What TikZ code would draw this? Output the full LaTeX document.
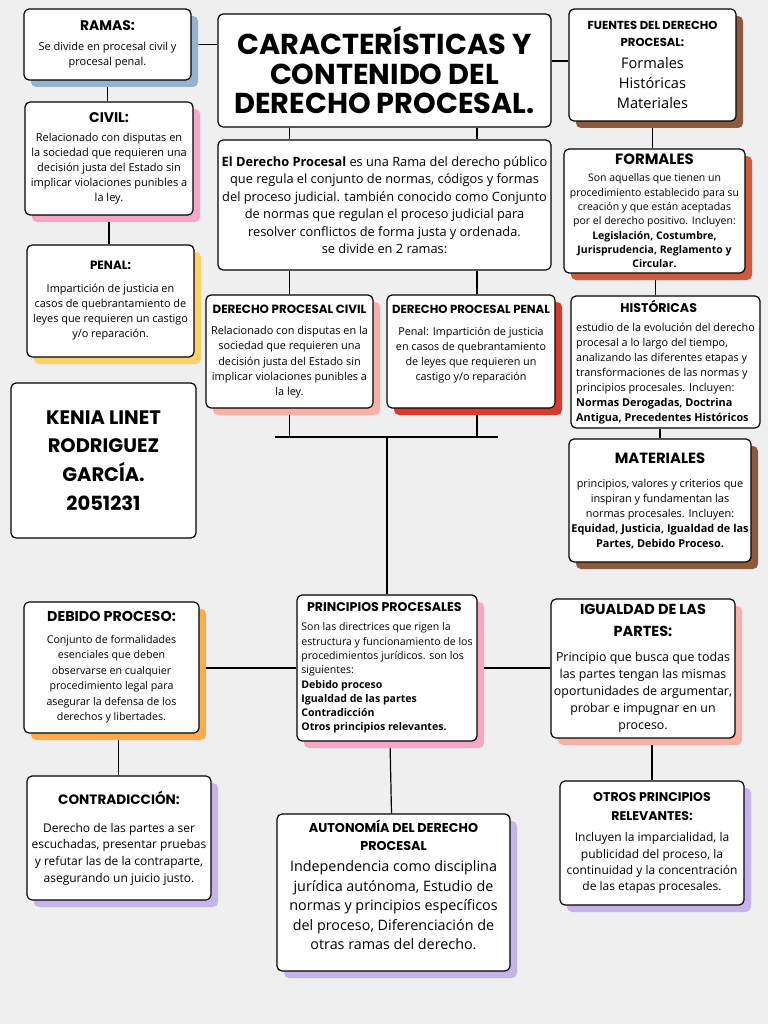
\documentclass[tikz,border=0pt]{standalone}
\usepackage{fontspec}
\setmainfont{Open Sans}
\newfontfamily\hdfont{Poppins}
\usetikzlibrary{shadows}

\definecolor{bgc}{HTML}{EFEFEF}
\definecolor{blueS}{HTML}{94B3D3}
\definecolor{pinkS}{HTML}{F5A7C5}
\definecolor{yellowS}{HTML}{FBD268}
\definecolor{salmonS}{HTML}{F8B0A6}
\definecolor{redS}{HTML}{D83A2C}
\definecolor{brownS}{HTML}{8C5A3E}
\definecolor{rustS}{HTML}{D05A3C}
\definecolor{orangeS}{HTML}{FFAA4C}
\definecolor{lilacS}{HTML}{C6B3EB}

\newcommand\hd[2][12]{{\hdfont\bfseries\fontsize{#1}{13}\selectfont #2}}
\newcommand\fs[2]{\fontsize{#1}{#2}\selectfont}

\pgfdeclarelayer{bgl}
\pgfdeclarelayer{lines}
\pgfsetlayers{bgl,lines,main}

\begin{document}
\begin{tikzpicture}[
  x=1pt, y=-1pt, font=\fs{11}{15},
  box/.style={draw, line width=1.2pt, rounded corners=5pt, fill=white, align=center, inner sep=1pt},
  sh/.style={drop shadow={shadow xshift=7pt, shadow yshift=-7pt, fill=#1, opacity=1}},
  conn/.style={line width=1.2pt}
]
  \useasboundingbox (0,0) rectangle (768,1024);
  \begin{pgfonlayer}{bgl}
    \fill[bgc] (0,0) rectangle (768,1024);
  \end{pgfonlayer}

  \node[box, sh=blueS, minimum width=167, minimum height=71] (ramas) at (107.5,44.5)
    {\hd[13.9]{RAMAS:}\\[5pt]Se divide en procesal civil y\\procesal penal.};
  \node[box, sh=pinkS, minimum width=168, minimum height=113] (civil) at (109,158.5)
    {\hd[14]{CIVIL:}\\[4pt]Relacionado con disputas en\\la sociedad que requieren una\\decisión justa del Estado sin\\implicar violaciones punibles a\\la ley.};
  \node[box, sh=yellowS, minimum width=167, minimum height=112, font=\fs{10.9}{15}] (penal) at (110.5,301)
    {\hd[12]{PENAL:}\\[8pt]Impartición de justicia en\\casos de quebrantamiento de\\leyes que requieren un castigo\\y/o reparación.};
  \node[box, minimum width=185, minimum height=155, font=\hdfont\bfseries\fs{19.5}{28.7}] (autor) at (103.5,460.5)
    {KENIA LINET\\RODRIGUEZ\\GARCÍA.\\2051231};

  \node[box, minimum width=333, minimum height=113, font=\hdfont\bfseries\fs{28.8}{29.5}] (titulo) at (384.5,70.5)
    {CARACTERÍSTICAS Y\\CONTENIDO DEL\\DERECHO PROCESAL.};
  \node[box, minimum width=333, minimum height=130, font=\fs{12.8}{17.5}] (def) at (384.5,205)
    {\textbf{El Derecho Procesal} es una Rama del derecho público\\que regula el conjunto de normas, códigos y formas\\del proceso judicial. también conocido como Conjunto\\de normas que regulan el proceso judicial para\\resolver conflictos de forma justa y ordenada.\\se divide en 2 ramas:};
  \node[box, sh=salmonS, minimum width=167, minimum height=113, font=\fs{10.9}{15.2}] (dpc) at (289.5,351.5)
    {\hd[11.9]{DERECHO PROCESAL CIVIL}\\[6pt]Relacionado con disputas en la\\sociedad que requieren una\\decisión justa del Estado sin\\implicar violaciones punibles a\\la ley.};
  \node[box, sh=redS, minimum width=168, minimum height=113, font=\fs{10.8}{15}] (dpp) at (471,351.5)
    {\hd[11.7]{DERECHO PROCESAL PENAL}\\[7pt]Penal: Impartición de justicia\\en casos de quebrantamiento\\de leyes que requieren un\\castigo y/o reparación\\[3pt]~};

  \node[box, sh=brownS, minimum width=167, minimum height=112, font=\fs{14.6}{20}] (fuentes) at (652.5,65)
    {\hd[11.6]{FUENTES DEL DERECHO}\\[-3pt]\hd[11.6]{PROCESAL:}\\[2pt]Formales\\Históricas\\Materiales};
  \node[box, sh=rustS, minimum width=181, minimum height=124, font=\fs{10.5}{14.3}] (formales) at (654.5,211)
    {\hd[14.9]{FORMALES}\\[3pt]Son aquellas que tienen un\\procedimiento establecido para su\\creación y que están aceptadas\\por el derecho positivo. Incluyen:\\\textbf{Legislación, Costumbre,}\\\textbf{Jurisprudencia, Reglamento y}\\\textbf{Circular.}};
  \node[box, align=left, minimum width=189, minimum height=132, font=\fs{10.85}{15}] (historicas) at (665.5,362)
    {\makebox[165pt]{\hd[12.6]{HISTÓRICAS}}\\[4pt]estudio de la evolución del derecho\\procesal a lo largo del tiempo,\\analizando las diferentes etapas y\\transformaciones de las normas y\\principios procesales. Incluyen:\\\textbf{Normas Derogadas, Doctrina}\\\textbf{Antigua, Precedentes Históricos}};
  \node[box, sh=brownS, minimum width=182, minimum height=123, font=\fs{10.9}{15}] (materiales) at (660,500.5)
    {\hd[14.8]{MATERIALES}\\[9pt]principios, valores y criterios que\\inspiran y fundamentan las\\normas procesales. Incluyen:\\\textbf{Equidad, Justicia, Igualdad de las}\\\textbf{Partes, Debido Proceso.}};

  \node[box, sh=pinkS, align=left, minimum width=180, minimum height=146, font=\fs{10.55}{14.3}] (principios) at (387,668)
    {\makebox[166pt]{\hd[12.6]{PRINCIPIOS PROCESALES}}\\[5pt]Son las directrices que rigen la\\estructura y funcionamiento de los\\procedimientos jurídicos. son los\\siguientes:\\\textbf{Debido proceso}\\\textbf{Igualdad de las partes}\\\textbf{Contradicción}\\\textbf{Otros principios relevantes.}};
  \node[box, sh=orangeS, minimum width=175, minimum height=131, font=\fs{10.66}{15.5}] (debido) at (111.5,667.5)
    {\hd[14.3]{DEBIDO PROCESO:}\\[6pt]Conjunto de formalidades\\esenciales que deben\\observarse en cualquier\\procedimiento legal para\\asegurar la defensa de los\\derechos y libertades.};
  \node[box, sh=lilacS, minimum width=184, minimum height=124, font=\fs{12}{16.7}] (contra) at (119,838)
    {\hd[13.6]{CONTRADICCIÓN:}\\[11pt]Derecho de las partes a ser\\escuchadas, presentar pruebas\\y refutar las de la contraparte,\\asegurando un juicio justo.};
  \node[box, sh=lilacS, minimum width=233, minimum height=157, font=\fs{14.35}{19.5}] (autonomia) at (393.5,892.5)
    {\hd[12.8]{AUTONOMÍA DEL DERECHO}\\[-1.5pt]\hd[12.8]{PROCESAL}\\[1.5pt]Independencia como disciplina\\jurídica autónoma, Estudio de\\normas y principios específicos\\del proceso, Diferenciación de\\otras ramas del derecho.\\[-4pt]~};
  \node[box, sh=salmonS, minimum width=184, minimum height=139, font=\fs{12.4}{17}] (igualdad) at (643,668.5)
    {\hd[14.5]{IGUALDAD DE LAS}\\[5pt]\hd[14.5]{PARTES:}\\[8pt]Principio que busca que todas\\las partes tengan las mismas\\oportunidades de argumentar,\\probar e impugnar en un\\proceso.};
  \node[box, sh=lilacS, minimum width=184, minimum height=124, font=\fs{12}{16.3}] (otros) at (652,843)
    {\hd[12.6]{OTROS PRINCIPIOS}\\[3pt]\hd[12.6]{RELEVANTES:}\\[5pt]Incluyen la imparcialidad, la\\publicidad del proceso, la\\continuidad y la concentración\\de las etapas procesales.};

  \coordinate (brL) at (275,437);
  \coordinate (brR) at (498,437);
  \coordinate (brM) at (387,437);

  \begin{pgfonlayer}{lines}
    \draw[conn] (ramas.east) -- (ramas.east -| titulo.west);
    \draw[conn] ([yshift=4pt]fuentes.west) -- ([yshift=4pt]fuentes.west -| titulo.east);
    \draw[conn] (ramas.south) -- (ramas.south |- civil.north);
    \draw[conn] (civil.south) -- (civil.south |- penal.north);
    \draw[conn] (dpc.north |- titulo.south) -- (dpc.north |- def.north);
    \draw[conn] ([xshift=6pt]dpp.north |- titulo.south) -- ([xshift=6pt]dpp.north |- def.north);
    \draw[conn] (dpc.north |- def.south) -- (dpc.north);
    \draw[conn] ([xshift=6pt]dpp.north |- def.south) -- ([xshift=6pt]dpp.north);
    \draw[conn] (dpc.south) -- (dpc.south |- brL);
    \draw[conn] ([xshift=6pt]dpp.south) -- ([xshift=6pt]dpp.south |- brL);
    \draw[conn] (brL) -- (brR);
    \draw[conn] (brM) -- (principios.north);
    \draw[conn] (fuentes.south) -- (fuentes.south |- formales.north);
    \draw[conn] ([xshift=1pt]formales.south) -- ([xshift=1pt]formales.south |- historicas.north);
    \draw[conn] (materiales.north) -- (materiales.north |- historicas.south);
    \draw[conn] (debido.east |- principios.west) -- (principios.west);
    \draw[conn] (principios.east) -- (principios.east -| igualdad.west);
    \draw[conn] ([xshift=3pt]principios.south) -- ([xshift=-2pt]autonomia.north);
    \draw[conn] ([xshift=7pt]debido.south) -- ([xshift=7pt]debido.south |- contra.north);
    \draw[conn] (otros.north) -- (otros.north |- igualdad.south);
  \end{pgfonlayer}
\end{tikzpicture}
\end{document}
